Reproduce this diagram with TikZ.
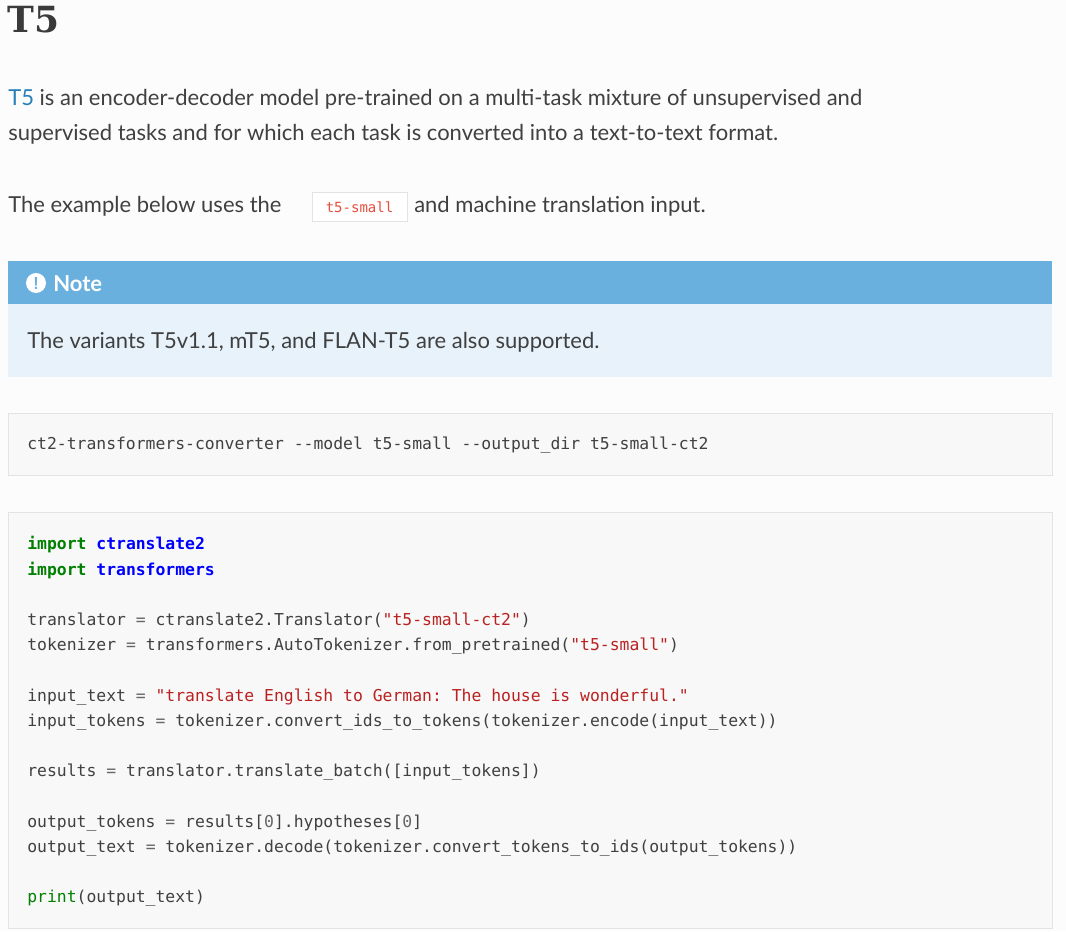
\documentclass[tikz,border=0pt]{standalone}
\usepackage{fontspec}
\setmainfont{Lato}
\setmonofont{DejaVu Sans Mono}
\newfontfamily\titlefont{DejaVu Serif}
\definecolor{bg}{HTML}{FCFCFC}
\definecolor{txt}{HTML}{404040}
\definecolor{lnk}{HTML}{2980B9}
\definecolor{notehd}{HTML}{6AB0DE}
\definecolor{notebd}{HTML}{E7F2FA}
\definecolor{codebg}{HTML}{F8F8F8}
\definecolor{codebd}{HTML}{E1E4E5}
\definecolor{kwc}{HTML}{008000}
\definecolor{nmc}{HTML}{0000FF}
\definecolor{stc}{HTML}{BA2121}
\definecolor{opc}{HTML}{666666}
\definecolor{inl}{HTML}{E74C3C}
\newcommand{\kwx}[1]{\textcolor{kwc}{\bfseries #1}}
\newcommand{\nmx}[1]{\textcolor{nmc}{\bfseries #1}}
\newcommand{\stx}[1]{\textcolor{stc}{#1}}
\newcommand{\opx}[1]{\textcolor{opc}{#1}}
\begin{document}
\begin{tikzpicture}[x=0.75pt,y=-0.75pt,
  body/.style={anchor=base west,inner sep=0,text=txt,font=\fontsize{16.5}{20}\selectfont},
  code/.style={anchor=base west,inner sep=0,text=txt,font=\fontsize{12.3}{15}\ttfamily}]
\fill[bg] (0,0) rectangle (1066,931);
\useasboundingbox (0,0) rectangle (1066,931);
\node[anchor=base west,inner sep=0,text=txt!90!black,font=\fontsize{27}{30}\titlefont\bfseries] (title) at (7,33) {T5};
\node[body] (p1) at (8,105) {\textcolor{lnk}{T5} is an encoder-decoder model pre-trained on a multi-task mixture of unsupervised and};
\node[body] (p2) at (8,140) {supervised tasks and for which each task is converted into a text-to-text format.};
\node[body] (p3a) at (8,212) {The example below uses the};
\node[draw=codebd,fill=white,inner sep=0,minimum width=95*0.75pt,minimum height=29*0.75pt,anchor=north west] (inl) at (312,192) {};
\node[anchor=base,inner sep=0,text=inl,font=\fontsize{10.5}{12}\ttfamily] (inlt) at (359.5,212) {t5-small};
\node[body] (p3b) at (414,212) {and machine translation input.};
% note
\fill[notehd] (8,261) rectangle (1052,304);
\fill[notebd] (8,304) rectangle (1052,377);
\node[circle,fill=white,minimum size=20*0.75pt,inner sep=0,text=notehd,font=\fontsize{13}{13}\bfseries\sffamily] (ic) at (36,283) {!};
\node[anchor=base west,inner sep=0,text=white,font=\fontsize{16.5}{20}\selectfont\bfseries] (nt) at (53,291) {Note};
\node[body] (nb) at (27,348) {The variants T5v1.1, mT5, and FLAN-T5 are also supported.};
% code 1
\filldraw[fill=codebg,draw=codebd] (8,413) rectangle (1052,475);
\node[code] (c1) at (27,449) {ct2-transformers-converter --model t5-small --output\_dir t5-small-ct2};
% code 2
\filldraw[fill=codebg,draw=codebd] (8,512) rectangle (1052,928);
\node[code] (l1) at (27,549) {\kwx{import} \nmx{ctranslate2}};
\node[code] (l2) at (27,575) {\kwx{import} \nmx{transformers}};
\node[code] (l3) at (27,625) {translator \opx{=} ctranslate2.Translator(\stx{"t5-small-ct2"})};
\node[code] (l4) at (27,650) {tokenizer \opx{=} transformers.AutoTokenizer.from\_pretrained(\stx{"t5-small"})};
\node[code] (l5) at (27,701) {input\_text \opx{=} \stx{"translate English to German: The house is wonderful."}};
\node[code] (l6) at (27,726) {input\_tokens \opx{=} tokenizer.convert\_ids\_to\_tokens(tokenizer.encode(input\_text))};
\node[code] (l7) at (27,776) {results \opx{=} translator.translate\_batch([input\_tokens])};
\node[code] (l8) at (27,827) {output\_tokens \opx{=} results[\opx{0}].hypotheses[\opx{0}]};
\node[code] (l9) at (27,852) {output\_text \opx{=} tokenizer.decode(tokenizer.convert\_tokens\_to\_ids(output\_tokens))};
\node[code] (l10) at (27,902) {\textcolor{kwc}{print}(output\_text)};
\end{tikzpicture}
\end{document}
